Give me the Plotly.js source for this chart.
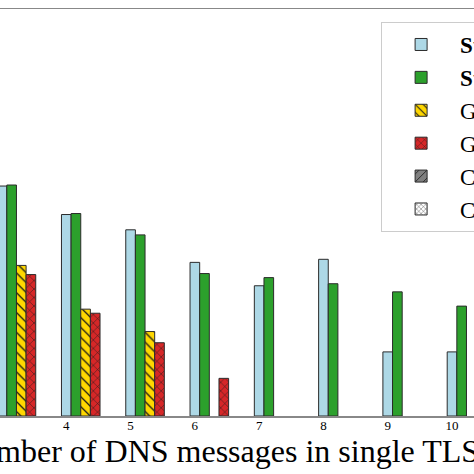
<!DOCTYPE html>
<html>
<head>
<meta charset="utf-8">
<script src="https://cdn.plot.ly/plotly-3.0.1.min.js"></script>
<style>
  html, body { margin: 0; padding: 0; background: #ffffff; }
  #chart { width: 474px; height: 474px; }
</style>
</head>
<body>
<div id="chart"></div>
<script>
// so ban tin DNS trong mot ban ghi TLS
var categories = [3, 4, 5, 6, 7, 8, 9, 10];

// gia tri doc tu hinh (null = khong co cot)
var seriesA = [22.6, 19.8, 18.3, 15.1, 12.8, 15.4, 6.3, 6.3];
var seriesB = [22.7, 19.9, 17.8, 14.0, 13.6, 13.0, 12.2, 10.8];
var seriesC = [14.8, 10.5, 8.3, null, null, null, null, null];
var seriesD = [13.9, 10.1, 7.2, 3.7, null, null, null, null];
var seriesE = [null, null, null, null, null, null, null, null];
var seriesF = [null, null, null, null, null, null, null, null];

var seriesNames = ["<b>Stub</b>", "<b>Stub (padded)</b>", "Google", "Google (padded)", "Cloudflare", "Cloudflare (padded)"];

var barW = 0.15;
var edge = { color: "#2b2b2b", width: 1 };

function makeBar(values, idx, color, pattern) {
    return {
        type: "bar",
        x: categories,
        y: values,
        name: seriesNames[idx],
        width: barW,
        offset: idx * barW - barW / 2, // cot dau tien nam dung tai vach chia
        marker: { color: color, line: edge, pattern: pattern },
        hoverinfo: "skip"
    };
}

var data = [
    makeBar(seriesA, 0, "#add8e6", { shape: "" }),
    makeBar(seriesB, 1, "#2ca02c", { shape: "" }),
    makeBar(seriesC, 2, "#ffd700", { shape: "\\", bgcolor: "#ffd700", fgcolor: "#1a1a1a", size: 7, solidity: 0.18 }),
    makeBar(seriesD, 3, "#d62728", { shape: "x", bgcolor: "#d62728", fgcolor: "#1a1a1a", size: 6, solidity: 0.15 }),
    makeBar(seriesE, 4, "#808080", { shape: "/", bgcolor: "#808080", fgcolor: "#1a1a1a", size: 7, solidity: 0.15 }),
    makeBar(seriesF, 5, "#ffffff", { shape: "x", bgcolor: "#ffffff", fgcolor: "#1a1a1a", size: 4, solidity: 0.2 })
];

var layout = {
    width: 474,
    height: 474,
    margin: { t: 9, r: 0, l: 0, b: 58, autoexpand: false },
    paper_bgcolor: "#ffffff",
    plot_bgcolor: "#ffffff",
    font: { family: "Liberation Serif", color: "black" },
    barmode: "overlay",
    showlegend: true,
    xaxis: {
        range: [2.969, 10.342],
        tickmode: "array",
        tickvals: categories,
        ticktext: categories.map(String),
        tickfont: { size: 13, family: "Liberation Serif", color: "black" },
        ticks: "",
        ticklabelstandoff: -3,
        showline: true,
        linecolor: "#888888",
        linewidth: 1.5,
        mirror: true,
        showgrid: false,
        zeroline: false
    },
    yaxis: {
        range: [0, 40],
        showticklabels: false,
        showgrid: false,
        zeroline: false,
        showline: false,
        ticks: ""
    },
    legend: {
        x: 0.804,
        y: 0.968,
        xanchor: "left",
        yanchor: "top",
        bgcolor: "#ffffff",
        bordercolor: "#cccccc",
        borderwidth: 1,
        itemwidth: 68,
        font: { size: 23, family: "Liberation Serif", color: "black" }
    },
    annotations: [
        {
            xref: "paper",
            yref: "paper",
            x: -0.095,
            y: -0.038,
            xanchor: "left",
            yanchor: "top",
            text: "Number of DNS messages in single TLS record",
            showarrow: false,
            font: { size: 32, family: "Liberation Serif", color: "black" }
        }
    ]
};

Plotly.newPlot("chart", data, layout, { displayModeBar: false, staticPlot: true });
</script>
</body>
</html>
